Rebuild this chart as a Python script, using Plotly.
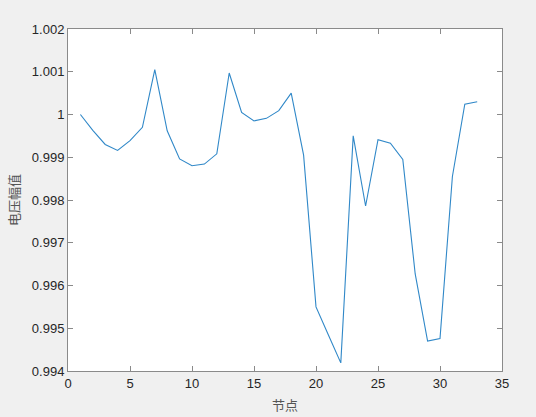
import plotly.graph_objects as go

nodes = list(range(1, 34))
voltage = [1.00000, 0.99963, 0.99930, 0.99916, 0.99939, 0.99970, 1.00105, 0.99962,
           0.99896, 0.99880, 0.99884, 0.99908, 1.00097, 1.00005, 0.99985, 0.99991,
           1.00009, 1.00050, 0.99905, 0.99550, 0.99484, 0.99419, 0.99950, 0.99786,
           0.99941, 0.99933, 0.99895, 0.99627, 0.99470, 0.99476, 0.99855, 1.00024,
           1.00030]

y_tickvals = [0.994, 0.995, 0.996, 0.997, 0.998, 0.999, 1.0, 1.001, 1.002]
y_ticktext = ["0.994", "0.995", "0.996", "0.997", "0.998", "0.999", "1", "1.001", "1.002"]
x_tickvals = [0, 5, 10, 15, 20, 25, 30, 35]

fig = go.Figure()
fig.add_trace(go.Scatter(x=nodes, y=voltage, mode="lines",
                         line=dict(color="#3088c8", width=1.1), showlegend=False))

axis_common = dict(showgrid=False, zeroline=False, showline=True, mirror="ticks",
                   linecolor="#8a8a8a", linewidth=1, ticks="inside", ticklen=5,
                   tickcolor="#8a8a8a", tickwidth=1, automargin=False,
                   tickfont=dict(family="Liberation Sans, Arial, sans-serif", size=13, color="#262626"))

fig.update_xaxes(range=[0, 35], tickvals=x_tickvals, **axis_common,
                 title=dict(text="节点", standoff=11,
                            font=dict(family="Noto Sans CJK SC", size=13, color="#555555")))
fig.update_yaxes(range=[0.994, 1.002], tickvals=y_tickvals, ticktext=y_ticktext, **axis_common,
                 title=dict(text="电压幅值", standoff=9,
                            font=dict(family="Noto Sans CJK SC", size=13, color="#555555")))

fig.update_layout(width=536, height=417, paper_bgcolor="#f0f0f0", plot_bgcolor="#ffffff",
                  margin=dict(l=68, r=34, t=29, b=46))

fig.write_html("out.html", config={"displayModeBar": False},
               post_script="document.body.style.margin='0';document.body.style.background='#f0f0f0';")
